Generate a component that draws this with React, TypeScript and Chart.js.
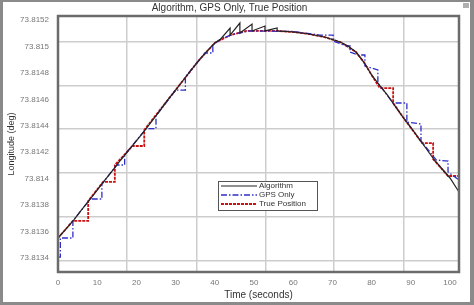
import { useEffect, useRef } from "react";
import { Chart, registerables } from "chart.js";
Chart.register(...registerables);

const algoTime = [0, 2, 4, 6, 8, 10, 12, 14, 16, 18, 20, 22, 24, 26, 28, 30, 32, 34, 36, 38, 40, 41.5, 43.9, 43.9, 46.4, 46.4, 49.5, 49.5, 52.8, 52.8, 55.9, 55.9, 60, 64, 68, 72, 74, 76, 78, 80, 82, 84, 86, 88, 90, 92, 94, 96, 98, 100, 102.3];
const algoLon = [73.813551, 73.813619, 73.813687, 73.813763, 73.813838, 73.813914, 73.81399, 73.814065, 73.814141, 73.814213, 73.814285, 73.81436, 73.814436, 73.814515, 73.814595, 73.81467, 73.814746, 73.814822, 73.814897, 73.814965, 73.815026, 73.815056, 73.815139, 73.815086, 73.815177, 73.815101, 73.815169, 73.815117, 73.815154, 73.815117, 73.815139, 73.815117, 73.815109, 73.815094, 73.815071, 73.815033, 73.815003, 73.814958, 73.814882, 73.814784, 73.814708, 73.814633, 73.814549, 73.814466, 73.814387, 73.814307, 73.814224, 73.814141, 73.814073, 73.814005, 73.813899];

const gpsTime = [0, 0.6, 0.6, 3.8, 3.8, 8.2, 11.2, 11.2, 15, 17, 17, 22.5, 25, 25, 30, 32.5, 32.5, 37.5, 39.5, 39.5, 42, 45, 48.8, 60, 66.8, 70.2, 70.2, 73.7, 74.5, 74.5, 76.5, 78.3, 78.3, 81.6, 81.6, 85.5, 89, 89, 92.6, 92.6, 96.5, 99.5, 99.5, 102.3];
const gpsLon = [73.813407, 73.813407, 73.813551, 73.813551, 73.81368, 73.813846, 73.813846, 73.813959, 73.814103, 73.814103, 73.814179, 73.814379, 73.814379, 73.814474, 73.81467, 73.81467, 73.814769, 73.81495, 73.81495, 73.815011, 73.815064, 73.815094, 73.815117, 73.815113, 73.815086, 73.815086, 73.815041, 73.815003, 73.815003, 73.814958, 73.814935, 73.814935, 73.814852, 73.814822, 73.814723, 73.814572, 73.814572, 73.814428, 73.814413, 73.814285, 73.814141, 73.814133, 73.81405, 73.81399];

const trueTime = [0, 3.8, 7.7, 7.7, 11.5, 14.5, 14.5, 19, 22, 22, 28, 32, 36, 40, 44, 48, 52, 56, 60, 64, 68, 72, 76, 78, 80, 82.1, 85.5, 85.5, 88, 92.9, 95.7, 95.7, 99.5, 102.3];
const trueLon = [73.813551, 73.81368, 73.81368, 73.813831, 73.813975, 73.813975, 73.814103, 73.814247, 73.814247, 73.814368, 73.814595, 73.814746, 73.814897, 73.815026, 73.815086, 73.815117, 73.815117, 73.815117, 73.815109, 73.815094, 73.815071, 73.815033, 73.814958, 73.814882, 73.814784, 73.814685, 73.814685, 73.814572, 73.814466, 73.814269, 73.814269, 73.814148, 73.81402, 73.81402];

const xTickLabels = [0, 10, 20, 30, 40, 50, 60, 70, 80, 90, 100];
const yTickLabels = [73.8134, 73.8136, 73.8138, 73.814, 73.8142, 73.8144, 73.8146, 73.8148, 73.815, 73.8152];
const xGridValues = [17.6, 35.5, 53.1, 70.4, 88.3];
const yGridValues = [73.813377, 73.81371, 73.814043, 73.814375, 73.814701, 73.815033];

const X_MIN = 0, X_MAX = 102.3;
const Y_MIN = 73.813294, Y_MAX = 73.81523;

const FONT = "'Liberation Sans', Arial, sans-serif";

const framePlugin = {
  id: "frameAndLegend",
  beforeDraw(chart: any) {
    const { ctx, width, height } = chart;
    ctx.save();
    ctx.fillStyle = "#ffffff";
    ctx.fillRect(0, 0, width, height);
    ctx.restore();
  },
  afterDatasetsDraw(chart: any) {
    const { ctx, chartArea: a } = chart;
    ctx.save();
    ctx.strokeStyle = "#6b6b6b";
    ctx.lineWidth = 2.5;
    ctx.strokeRect(a.left, a.top, a.right - a.left, a.bottom - a.top);
    const bx = a.left + 160, by = a.top + 165, bw = 99, bh = 29;
    ctx.fillStyle = "#ffffff";
    ctx.fillRect(bx, by, bw, bh);
    ctx.strokeStyle = "#555";
    ctx.lineWidth = 1;
    ctx.strokeRect(bx + 0.5, by + 0.5, bw, bh);
    ctx.font = `8px ${FONT}`;
    ctx.textBaseline = "middle";
    ctx.textAlign = "left";
    chart.data.datasets.forEach((ds: any, i: number) => {
      const yy = by + 5 + i * 9;
      ctx.beginPath();
      ctx.strokeStyle = ds.borderColor;
      ctx.lineWidth = ds.borderWidth;
      ctx.setLineDash(ds.borderDash || []);
      ctx.moveTo(bx + 3, yy);
      ctx.lineTo(bx + 39, yy);
      ctx.stroke();
      ctx.setLineDash([]);
      ctx.fillStyle = "#333";
      ctx.fillText(ds.label, bx + 41, yy);
    });
    ctx.restore();
  },
  afterDraw(chart: any) {
    const { ctx, width, height } = chart;
    ctx.save();
    ctx.fillStyle = "#8a8a8a";
    ctx.fillRect(0, 0, width, 2);
    ctx.fillRect(0, 0, 3, height);
    ctx.fillRect(width - 4, 0, 4, height);
    ctx.fillRect(0, height - 3, width, 3);
    ctx.fillStyle = "#b0b0b0";
    ctx.fillRect(width - 11, 3, 6, 5);
    ctx.restore();
  },
};

export default function App() {
  const ref = useRef<HTMLCanvasElement>(null);
  useEffect(() => {
    document.body.style.margin = "0";
    if (!ref.current) return;
    Chart.defaults.font.family = FONT;
    const mk = (ts: number[], vs: number[]) => ts.map((t, i) => ({ x: t, y: vs[i] }));
    const chart = new Chart(ref.current, {
      type: "line",
      data: {
        datasets: [
          { label: "Algorithm", data: mk(algoTime, algoLon), borderColor: "#222222", borderWidth: 1.2, pointRadius: 0, tension: 0, fill: false },
          { label: "GPS Only", data: mk(gpsTime, gpsLon), borderColor: "#2f2fc8", borderWidth: 1.3, borderDash: [6, 2, 1.5, 2], pointRadius: 0, tension: 0, fill: false },
          { label: "True Position", data: mk(trueTime, trueLon), borderColor: "#cc1111", borderWidth: 1.8, borderDash: [3, 1], pointRadius: 0, tension: 0, fill: false },
        ],
      },
      options: {
        responsive: false,
        animation: false,
        layout: { padding: { left: 0, right: 15, top: 0, bottom: 0 } },
        plugins: {
          legend: { display: false },
          tooltip: { enabled: false },
          title: {
            display: true,
            text: "Algorithm, GPS Only, True Position",
            color: "#333",
            font: { family: FONT, size: 10, weight: "normal" },
            padding: { top: 2, bottom: 2 },
          },
        },
        scales: {
          x: {
            type: "linear",
            min: X_MIN,
            max: X_MAX,
            afterBuildTicks: (s: any) => { s.ticks = xTickLabels.map((v) => ({ value: v })); },
            afterFit: (s: any) => { s.height = 33; },
            grid: { display: false, drawTicks: false },
            border: { display: false },
            ticks: { color: "#777", font: { size: 8 }, padding: 6, autoSkip: false, maxRotation: 0 },
            title: { display: true, text: "Time (seconds)", color: "#333", font: { size: 10 }, padding: { top: 0, bottom: 4 } },
          },
          x2: {
            type: "linear",
            position: "top",
            min: X_MIN,
            max: X_MAX,
            afterBuildTicks: (s: any) => { s.ticks = xGridValues.map((v) => ({ value: v })); },
            afterFit: (s: any) => { s.height = 0; },
            grid: { color: "#cdcdcd", lineWidth: 1.5, drawTicks: false },
            border: { display: false },
            ticks: { display: false },
          },
          y: {
            type: "linear",
            min: Y_MIN,
            max: Y_MAX,
            afterBuildTicks: (s: any) => { s.ticks = yTickLabels.map((v) => ({ value: v })); },
            afterFit: (s: any) => { s.width = 58; },
            grid: { display: false, drawTicks: false },
            border: { display: false },
            ticks: {
              color: "#777",
              font: { size: 8 },
              padding: 9,
              autoSkip: false,
              callback: (v: any) => Number(v).toFixed(4).replace(/0+$/, ""),
            },
            title: { display: true, text: "Longitude (deg)", color: "#333", font: { size: 9 }, padding: { top: 6, bottom: 0 } },
          },
          y2: {
            type: "linear",
            position: "right",
            min: Y_MIN,
            max: Y_MAX,
            afterBuildTicks: (s: any) => { s.ticks = yGridValues.map((v) => ({ value: v })); },
            afterFit: (s: any) => { s.width = 0; },
            grid: { color: "#cdcdcd", lineWidth: 1.5, drawTicks: false },
            border: { display: false },
            ticks: { display: false },
          },
        },
      } as any,
      plugins: [framePlugin],
    });
    return () => chart.destroy();
  }, []);
  return (
    <div style={{ width: 474, height: 305 }}>
      <canvas ref={ref} width={474} height={305} style={{ display: "block" }} />
    </div>
  );
}
